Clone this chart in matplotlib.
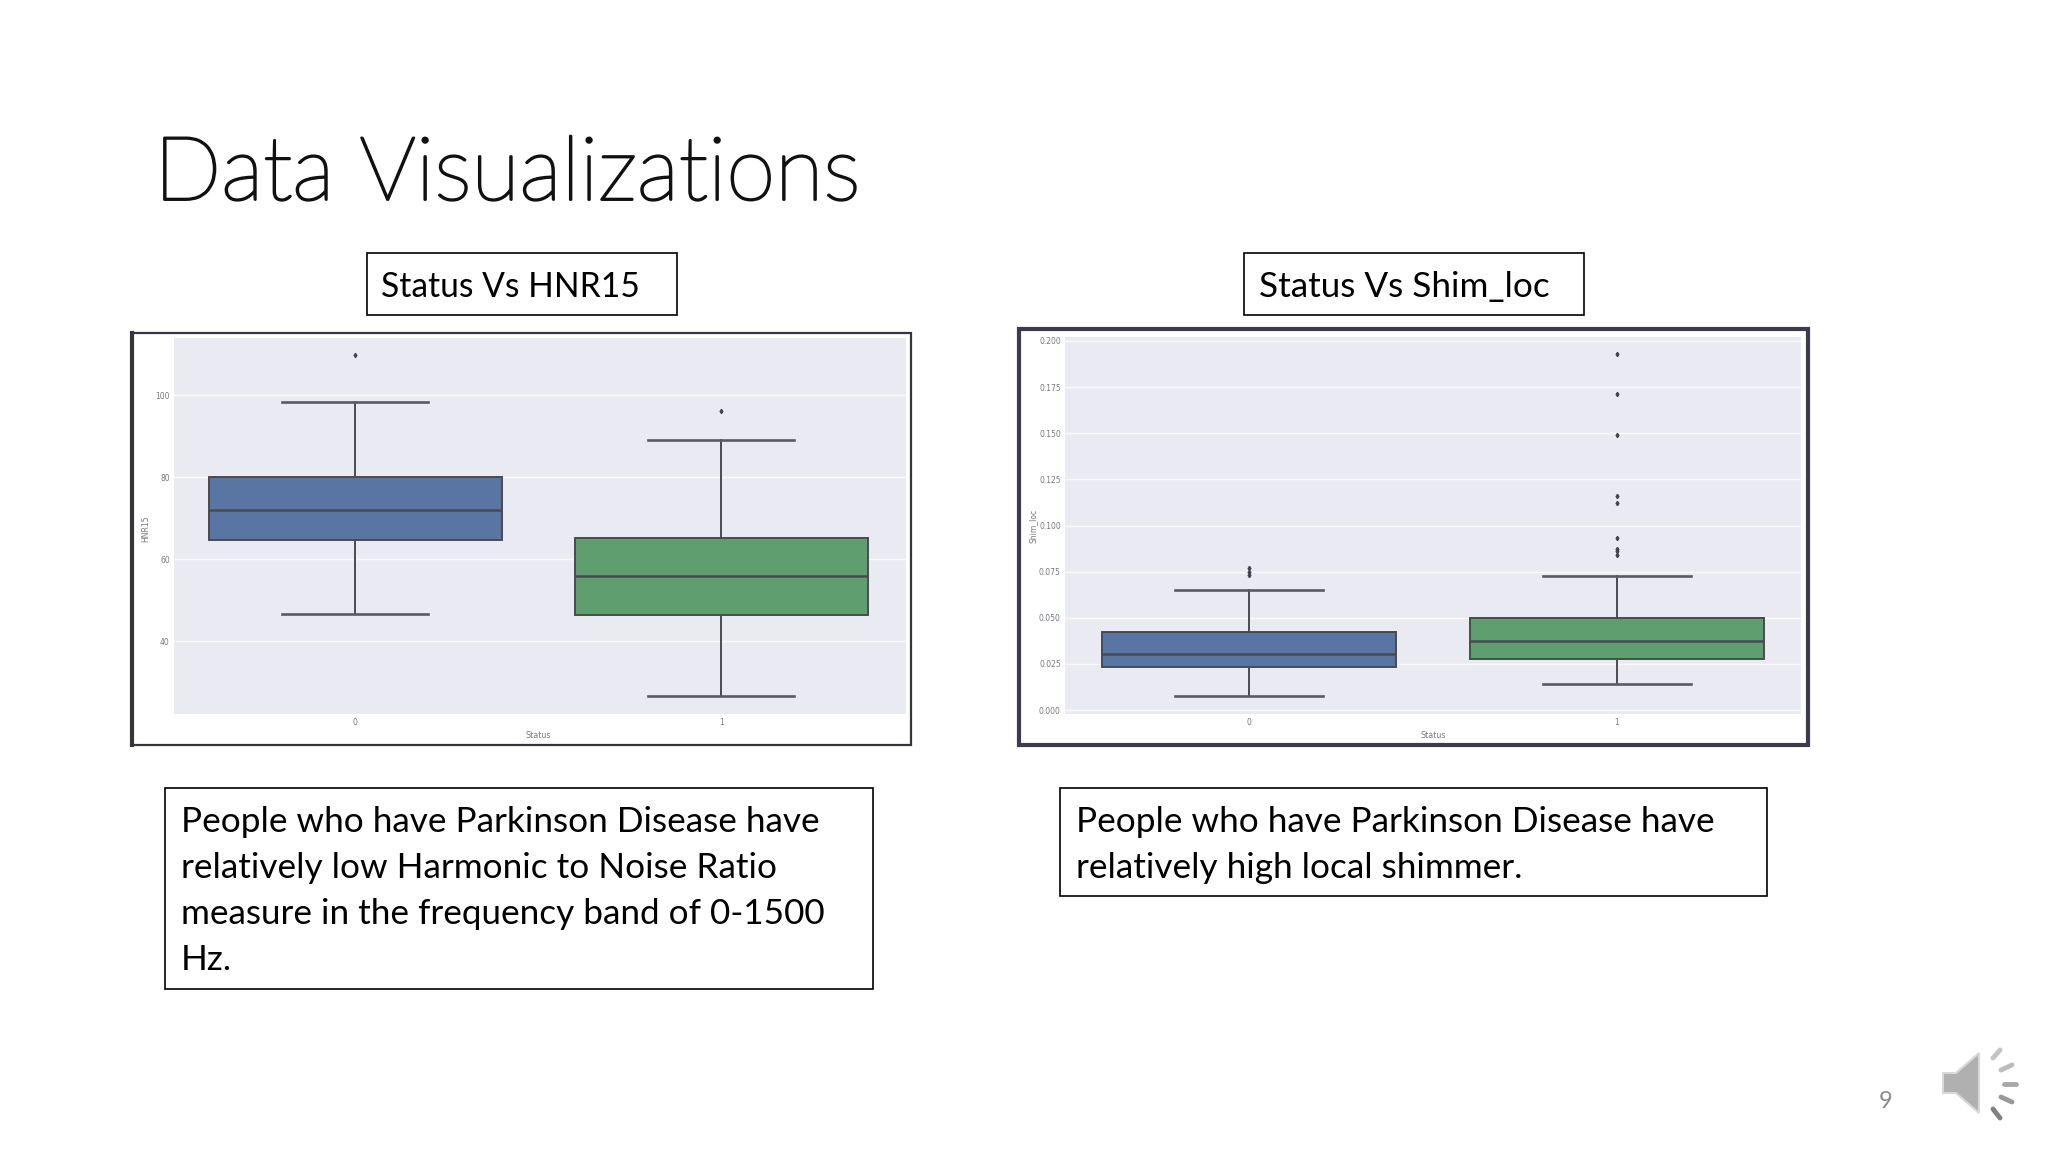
import matplotlib
matplotlib.use("Agg")
import matplotlib.pyplot as plt
import matplotlib.patheffects as pe
from matplotlib.patches import Polygon, Rectangle

W, H = 2048, 1152
FONT = ["Lato", "DejaVu Sans"]

# ---------------------------------------------------------------------------
# Data
# ---------------------------------------------------------------------------

STATUS = ["0", "1"]

HNR_WHISLO = [46.7, 26.6]
HNR_Q1     = [64.6, 46.4]
HNR_MED    = [71.9, 56.0]
HNR_Q3     = [80.0, 65.2]
HNR_WHISHI = [98.4, 89.2]
HNR_FLIERS = [[109.9], [96.2]]
HNR_TICKS  = [40, 60, 80, 100]

SHIM_WHISLO = [0.0078, 0.0141]
SHIM_Q1     = [0.0236, 0.0275]
SHIM_MED    = [0.0305, 0.0374]
SHIM_Q3     = [0.0424, 0.0500]
SHIM_WHISHI = [0.0650, 0.0728]
SHIM_FLIERS = [[0.073, 0.075, 0.077],
               [0.084, 0.086, 0.0875, 0.0935, 0.112, 0.116, 0.149, 0.171, 0.193]]
SHIM_TICKS  = [0.0, 0.025, 0.05, 0.075, 0.1, 0.125, 0.15, 0.175, 0.2]

LEFT_NOTE = ["People who have Parkinson Disease have",
             "relatively low Harmonic to Noise Ratio",
             "measure in the frequency band of 0-1500",
             "Hz."]
RIGHT_NOTE = ["People who have Parkinson Disease have",
              "relatively high local shimmer."]

BOX_COLORS = ["#5875a4", "#5f9e6e"]
EDGE = "#4a4a50"
LABEL_GRAY = "#77777f"

# ---------------------------------------------------------------------------
# Helpers
# ---------------------------------------------------------------------------

fig = plt.figure(figsize=(W / 100, H / 100), dpi=100, facecolor="white")

# full slide overlay in pixel coordinates, y going down
slide = fig.add_axes([0, 0, 1, 1], zorder=0)
slide.set_xlim(0, W)
slide.set_ylim(H, 0)
slide.axis("off")


def px_axes(x0, y0, x1, y1):
    return fig.add_axes([x0 / W, 1 - y1 / H, (x1 - x0) / W, (y1 - y0) / H], zorder=2)


def frame(x0, y0, x1, y1, lw=1.2, color="black"):
    slide.add_patch(Rectangle((x0, y0), x1 - x0, y1 - y0, fill=False, lw=lw, ec=color))


def boxplot_panel(pos, xlim, ylim, ticks, ticklabels, ylabel, whislo, q1, med, q3, whishi, fliers,
                  ylabel_x, ylabel_y, status_dx):
    ax = px_axes(*pos)
    stats = [dict(whislo=whislo[i], q1=q1[i], med=med[i], q3=q3[i], whishi=whishi[i],
                  fliers=fliers[i], label=STATUS[i]) for i in range(2)]
    bp = ax.bxp(stats, positions=[0, 1], widths=0.8, patch_artist=True,
                boxprops=dict(linewidth=1.4, edgecolor=EDGE),
                medianprops=dict(color=EDGE, linewidth=1.8),
                whiskerprops=dict(color=EDGE, linewidth=1.4),
                capprops=dict(color="#5a5a62", linewidth=1.9),
                flierprops=dict(marker="d", markersize=2.2, markerfacecolor="#44444c",
                                markeredgecolor="#44444c", linestyle="none"),
                zorder=3)
    for patch, c in zip(bp["boxes"], BOX_COLORS):
        patch.set_facecolor(c)
    ax.set_xlim(*xlim)
    ax.set_ylim(*ylim)
    ax.set_facecolor("#eaeaf2")
    ax.set_yticks(ticks)
    ax.set_yticklabels(ticklabels)
    ax.grid(axis="y", color="white", lw=1.0, alpha=0.75)
    ax.set_axisbelow(True)
    for s in ax.spines.values():
        s.set_visible(False)
    ax.tick_params(length=0, labelsize=5.5, labelcolor=LABEL_GRAY, pad=3)
    slide.text(pos[0] + ylabel_x, ylabel_y, ylabel, rotation=90, fontsize=5.5, color=LABEL_GRAY,
               ha="center", va="center", fontfamily="DejaVu Sans")
    slide.text((pos[0] + pos[2]) / 2 + status_dx, 735, "Status", fontsize=5.8, color=LABEL_GRAY,
               ha="center", va="center", fontfamily="DejaVu Sans")
    return ax


def note(x, lines, ys, size=25.3):
    for line, y in zip(lines, ys):
        slide.text(x, y, line, fontsize=size, color="black", ha="left", va="center",
                   fontfamily=FONT)


# ---------------------------------------------------------------------------
# Slide
# ---------------------------------------------------------------------------

# Lato Light alone is too thin, so thicken it a little with a stroke
slide.text(154, 176, "Data Visualizations", fontsize=63.8, color="#111111", ha="left", va="center",
           fontfamily=FONT, fontweight="light",
           path_effects=[pe.withStroke(linewidth=1.7, foreground="#111111")])

# captions
frame(367, 253, 677, 315)
note(381, ["Status Vs HNR15"], [287], size=24.2)
frame(1244, 253, 1584, 315)
note(1259, ["Status Vs Shim_loc"], [287], size=25.3)

# chart frames
frame(132, 333, 911, 745, lw=1.6, color="#35353d")
slide.plot([132, 132], [333, 745], color="#35353d", lw=3)
frame(1019, 329, 1808, 745, lw=3, color="#3c3c4c")

boxplot_panel((174, 338, 906, 714), (-0.495, 1.505), (22.2, 114), HNR_TICKS,
              [str(t) for t in HNR_TICKS], "HNR15",
              HNR_WHISLO, HNR_Q1, HNR_MED, HNR_Q3, HNR_WHISHI, HNR_FLIERS, -28, 529, -2)
boxplot_panel((1065, 337, 1801, 714), (-0.5, 1.5), (-0.0021, 0.2021), SHIM_TICKS,
              [f"{t:.3f}" for t in SHIM_TICKS], "Shim_loc",
              SHIM_WHISLO, SHIM_Q1, SHIM_MED, SHIM_Q3, SHIM_WHISHI, SHIM_FLIERS, -32, 526, 0)

# description boxes
frame(165, 788, 873, 989)
note(181, LEFT_NOTE, [822, 868, 914, 960])
frame(1060, 788, 1767, 896)
note(1076, RIGHT_NOTE, [822, 868])

# page number and speaker icon
slide.text(1886, 1101, "9", fontsize=17, color="#8a8a8a", ha="center", va="center", fontfamily=FONT)
slide.add_patch(Polygon([(1943, 1073), (1956, 1073), (1979, 1053), (1979, 1113), (1956, 1093), (1943, 1093)],
                        closed=True, fc="#b0b0b0", ec="#d8d8d8", lw=1.5))
for (xa, ya, xb, yb), c in zip([(1993, 1058, 2000, 1050), (2001, 1070, 2012, 1065),
                                (2004, 1084, 2016, 1084), (2001, 1097, 2012, 1102),
                                (1993, 1109, 2000, 1118)],
                               ["#c4c4c4", "#bcbcbc", "#a8a8a8", "#999999", "#808080"]):
    slide.plot([xa, xb], [ya, yb], color=c, lw=3.5, solid_capstyle="round")

fig.savefig("out.png", dpi=100)
plt.close(fig)
